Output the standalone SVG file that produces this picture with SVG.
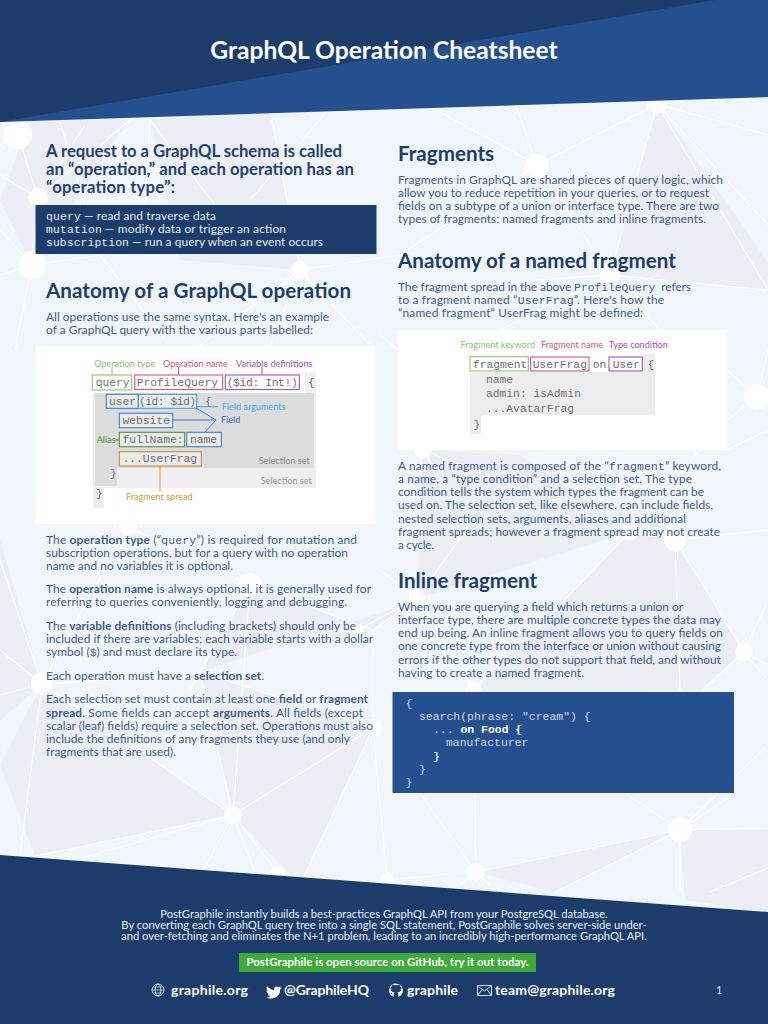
<svg xmlns="http://www.w3.org/2000/svg" width="768" height="1024" viewBox="0 0 768 1024">
<style>
text{font-family:"Lato","Noto Sans",sans-serif;white-space:pre}
.b{font-size:11.9px;fill:#3d5c88}
.s{font-weight:700}
.h{font-size:20.6px;font-weight:700;fill:#1c3d6b}
.i{font-size:16.7px;font-weight:700;fill:#1f4170}
.m{font-family:"Liberation Mono",monospace;font-size:11.4px}
.c{font-family:"Liberation Mono",monospace;font-size:11.3px;fill:#707070}
.l{font-size:9.1px}
.box{fill:none;stroke-width:1.1}
.w{font-size:11.9px;fill:#e6ecf5}
.k{font-family:"Liberation Mono",monospace;font-size:11.45px;fill:#ccd7e8}
.f{font-size:11.2px;fill:#e8edf5;text-anchor:middle}
.a{font-size:14px;font-weight:700;fill:#fff}
.e{stroke:#fff;stroke-width:1.1;fill:none}
.g{fill:#ebeef4}
</style>
<rect width="768" height="1024" fill="#f1f6fd"/>
<g id="background">
<polygon class="g" points="657,104 610,275 768,290 768,262"/>
<polygon class="g" points="42,684 233,815 35,856 0,765"/>
<polygon class="g" points="200,672 373,728 233,815"/>
<polygon class="g" points="250,585 373,630 420,600 200,672"/>
<polygon class="g" points="630,532 675,540 744,652 700,690 470,692"/>
<polygon class="g" points="680,830 768,830 768,912 685,900"/>
<polygon class="g" points="476,872 680,830 555,892"/>
<polygon class="g" points="233,815 373,728 300,885"/>
<polygon class="g" points="30,122 130,118 32,265 0,200"/>
<polygon class="g" points="150,120 270,110 300,270 180,260"/>
<polygon class="g" points="423,450 520,455 630,532 417,598"/>
<polygon class="g" points="0,540 42,684 0,720"/>
<g class="e">
<path d="M18 135 L38 198 L32 265 M18 135 L0 145 M38 198 L0 175 M32 265 L0 230 M32 265 L0 275 M32 265 L15 350 M38 198 L85 125 M38 198 L130 120"/>
<path d="M32 265 L100 255 L165 340 M100 255 L60 122 M150 118 L145 210 M270 110 L300 270 L270 345 M300 270 L400 255 M300 270 L370 345 M300 270 L200 345 M150 120 L215 205 M330 108 L250 200"/>
<path d="M537 165 L657 104 L610 275 M537 165 L515 103 M537 165 L440 112 M537 165 L610 275 M537 165 L400 255 M657 104 L768 225 M657 104 L768 135 M657 104 L768 290 M610 275 L768 290 M610 275 L660 330 M610 275 L500 330 M610 275 L400 290"/>
<path d="M757 397 L768 400 M757 397 L727 420 M757 397 L727 370 M757 397 L768 350 M398 350 L380 335"/>
<path d="M128 527 L250 585 L233 815 M128 527 L42 684 M250 585 L373 630 L373 728 M250 585 L190 690 M42 684 L0 695 M42 684 L0 650 M0 560 L42 684 M42 684 L235 672 M42 684 L233 815 M42 684 L20 855 M233 815 L35 856 M233 815 L75 860 M233 815 L373 728 L300 885 M233 815 L205 868 M233 815 L255 872 M233 815 L278 873 M200 672 L233 815 M200 672 L373 728 M373 630 L417 598 M373 728 L387 880"/>
<path d="M423 450 L470 525 L417 598 L358 630 M423 450 L630 532 M630 532 L675 540 L680 690 M630 532 L540 625 L470 692 M675 540 L744 652 L768 600 M744 652 L768 665 M744 652 L700 692 M744 652 L768 680 M675 540 L768 530 M417 598 L480 692 M417 598 L380 570 M630 532 L700 450 M768 430 L727 450 M475 692 L417 598"/>
<path d="M680 830 L768 828 M680 830 L476 872 M680 830 L625 793 M680 830 L735 793 M680 830 L680 890 M680 830 L768 745 M680 830 L555 892 M476 872 L475 793 M476 872 L420 793 M476 872 L385 880 M476 872 L460 885 M476 872 L490 885 M768 868 L710 892"/>
</g>
<g fill="#fff">
<circle cx="18" cy="135" r="14"/><circle cx="38" cy="198" r="10"/><circle cx="32" cy="265" r="14"/><circle cx="300" cy="270" r="9"/><circle cx="537" cy="166" r="12"/><circle cx="657" cy="104" r="10"/><circle cx="610" cy="275" r="10"/><circle cx="757" cy="397" r="13"/><circle cx="423" cy="450" r="9"/><circle cx="128" cy="526" r="9"/><circle cx="250" cy="585" r="12"/><circle cx="42" cy="684" r="11"/><circle cx="373" cy="728" r="9"/><circle cx="233" cy="815" r="9"/><circle cx="278" cy="873" r="7"/><circle cx="387" cy="880" r="7"/><circle cx="675" cy="540" r="11"/><circle cx="630" cy="532" r="8"/><circle cx="417" cy="598" r="8"/><circle cx="744" cy="652" r="9"/><circle cx="474" cy="690" r="8"/><circle cx="680" cy="830" r="12"/><circle cx="476" cy="872" r="9"/><circle cx="358" cy="630" r="6"/>
</g>
</g>
<g id="header">
<polygon points="0,0 768,0 768,97 0,122" fill="#25508f"/>
<polygon points="0,0 715,0 0,122" fill="#1c3d6b"/>
<text x="384" y="59" text-anchor="middle" font-size="24.6" font-weight="700" fill="#fff">GraphQL Operation Cheatsheet</text>
</g>
<g id="left-column">
<text class="i" x="46" y="157" textLength="296">A request to a GraphQL schema is called</text>
<text class="i" x="46" y="175" textLength="308">an “operation,” and each operation has an</text>
<text class="i" x="46" y="193" textLength="129">“operation type”:</text>
<rect x="35.5" y="205" width="341" height="49" fill="#1c3d6b"/>
<text class="w" x="46" y="220" textLength="170"><tspan class="m">query</tspan> — read and traverse data</text>
<text class="w" x="46" y="233" textLength="240"><tspan class="m">mutation</tspan> — modify data or trigger an action</text>
<text class="w" x="46" y="246" textLength="277"><tspan class="m">subscription</tspan> — run a query when an event occurs</text>
<text class="h" x="46" y="298" textLength="305">Anatomy of a GraphQL operation</text>
<text class="b" x="46" y="321" textLength="283">All operations use the same syntax. Here's an example</text>
<text class="b" x="46" y="334" textLength="267">of a GraphQL query with the various parts labelled:</text>
<text class="b" x="46" y="543.500" textLength="311">The <tspan class="s">operation type</tspan> (“<tspan class="m">query</tspan>”) is required for mutation and</text>
<text class="b" x="46" y="557" textLength="302">subscription operations, but for a query with no operation</text>
<text class="b" x="46" y="570" textLength="187">name and no variables it is optional.</text>
<text class="b" x="46" y="593" textLength="325">The <tspan class="s">operation name</tspan> is always optional, it is generally used for</text>
<text class="b" x="46" y="606" textLength="301">referring to queries conveniently, logging and debugging.</text>
<text class="b" x="46" y="630" textLength="310">The <tspan class="s">variable definitions</tspan> (including brackets) should only be</text>
<text class="b" x="46" y="643" textLength="327">included if there are variables; each variable starts with a dollar</text>
<text class="b" x="46" y="656" textLength="191">symbol (<tspan class="m">$</tspan>) and must declare its type.</text>
<text class="b" x="46" y="680" textLength="218">Each operation must have a <tspan class="s">selection set</tspan>.</text>
<text class="b" x="46" y="703" textLength="322">Each selection set must contain at least one <tspan class="s">field</tspan> or <tspan class="s">fragment</tspan></text>
<text class="b" x="46" y="716.500" textLength="317"><tspan class="s">spread</tspan>. Some fields can accept <tspan class="s">arguments</tspan>. All fields (except</text>
<text class="b" x="46" y="729.500" textLength="327">scalar (leaf) fields) require a selection set. Operations must also</text>
<text class="b" x="46" y="742.500" textLength="304">include the definitions of any fragments they use (and only</text>
<text class="b" x="46" y="755.500" textLength="130">fragments that are used).</text>
</g>
<g id="operation-diagram">
<rect x="35" y="346" width="340" height="178" fill="#fff"/>
<rect x="305" y="372" width="11" height="21" fill="#f0f0f0"/>
<rect x="93" y="393" width="223" height="95" fill="#efefef"/>
<rect x="93" y="488" width="11" height="20" fill="#efefef"/>
<rect x="95" y="393" width="219" height="75" fill="#dcdcdc"/>
<rect x="95" y="468" width="22" height="18" fill="#dcdcdc"/>
<rect x="106" y="394" width="90" height="14" fill="#ececec"/>
<rect x="119" y="413" width="54" height="15" fill="#ececec"/>
<rect x="119" y="432" width="102" height="15" fill="#ececec"/>
<rect x="119" y="452" width="82" height="14" fill="#ececec"/>
<g id="connectors" fill="none" stroke-width="1">
<path d="M112 367V375" stroke="#8cc66e"/>
<path d="M178.5 367V375" stroke="#d9567e"/>
<path d="M262 367V375" stroke="#a04fc0"/>
<path d="M196.7 406.7H218" stroke="#2fb4e8"/>
<path d="M172.7 420H216M196 408L216 420M205 432L216 420" stroke="#3a7fd0"/>
<path d="M115 440H119.3" stroke="#5a8a3a"/>
<path d="M160 466V492" stroke="#cf9a45"/>
<path d="M499 349V357" stroke="#8cc66e"/>
<path d="M559.7 349V357" stroke="#d9567e"/>
<path d="M625 349V357" stroke="#a04fc0"/>
</g>
<g id="query-box"><rect class="box" x="92.3" y="375" width="39.4" height="15" stroke="#8cc66e"/><text class="c" x="95.7" y="386">query</text></g>
<g id="name-box"><rect class="box" x="134.7" y="375" width="88" height="14.5" stroke="#d9567e"/><text class="c" x="136.7" y="386">ProfileQuery</text></g>
<g id="vars-box"><rect class="box" x="225.3" y="375" width="74" height="14.5" stroke="#a04fc0"/><text class="c" x="226.7" y="386" textLength="71">($id: Int!)</text></g>
<text class="c" x="308" y="386">{</text>
<g id="user-box"><rect class="box" x="106.3" y="394.3" width="32" height="14" stroke="#3a7fd0"/><text class="c" x="109" y="404.5">user</text></g>
<g id="args-box"><rect class="box" x="138.3" y="394.3" width="58.4" height="14" stroke="#2fa5e0"/><text class="c" x="139" y="404.500" textLength="57">(id: $id)</text></g>
<text class="c" x="205" y="404.5">{</text>
<g id="website-box"><rect class="box" x="119.3" y="413.3" width="53.4" height="14.4" stroke="#3a7fd0"/><text class="c" x="122.5" y="423.5">website</text></g>
<g id="alias-box"><rect class="box" x="119.3" y="432.3" width="65.4" height="14.4" stroke="#5a8a3a"/><text class="c" x="122.5" y="442.5">fullName:</text></g>
<g id="field-box"><rect class="box" x="186.7" y="432.3" width="34.6" height="14.4" stroke="#3a7fd0"/><text class="c" x="190" y="442.5">name</text></g>
<g id="spread-box"><rect class="box" x="119.3" y="451.7" width="82" height="14.3" stroke="#c8903c"/><text class="c" x="122.5" y="461.5">...UserFrag</text></g>
<text class="c" x="110" y="477">}</text>
<text class="c" x="96" y="497">}</text>
<text class="l" x="94.3" y="366.5" fill="#8cc66e">Operation type</text>
<text class="l" x="163" y="366.5" fill="#d9567e">Operation name</text>
<text class="l" x="236" y="366.5" fill="#a04fc0">Variable definitions</text>
<text class="l" x="221.7" y="409.5" fill="#2fb4e8">Field arguments</text>
<text class="l" x="221" y="423" fill="#2f6fc8">Field</text>
<text class="l" x="96.7" y="443" fill="#5a8a3a">Alias</text>
<text class="l" x="258.7" y="463.5" fill="#888">Selection set</text>
<text class="l" x="260.7" y="484" fill="#999">Selection set</text>
<text class="l" x="126" y="499.5" fill="#cf9a45">Fragment spread</text>
</g>
<g id="right-column">
<text class="h" x="398" y="160.500">Fragments</text>
<text class="b" x="398" y="184" textLength="325">Fragments in GraphQL are shared pieces of query logic, which</text>
<text class="b" x="398" y="197" textLength="311">allow you to reduce repetition in your queries, or to request</text>
<text class="b" x="398" y="210" textLength="321">fields on a subtype of a union or interface type. There are two</text>
<text class="b" x="398" y="223" textLength="308">types of fragments: named fragments and inline fragments.</text>
<text class="h" x="398" y="268" textLength="278">Anatomy of a named fragment</text>
<text class="b" x="398" y="291" textLength="293">The fragment spread in the above <tspan class="m">ProfileQuery</tspan>  refers</text>
<text class="b" x="398" y="304" textLength="266">to a fragment named “<tspan class="m">UserFrag</tspan>”. Here's how the</text>
<text class="b" x="398" y="317" textLength="245">“named fragment” UserFrag might be defined:</text>
<text class="b" x="398" y="470" textLength="323">A named fragment is composed of the “<tspan class="m">fragment</tspan>” keyword,</text>
<text class="b" x="398" y="483" textLength="294">a name, a “type condition” and a selection set. The type</text>
<text class="b" x="398" y="496" textLength="306">condition tells the system which types the fragment can be</text>
<text class="b" x="398" y="509" textLength="315">used on. The selection set, like elsewhere, can include fields,</text>
<text class="b" x="398" y="522.500" textLength="288">nested selection sets, arguments, aliases and additional</text>
<text class="b" x="398" y="535.500" textLength="322">fragment spreads; however a fragment spread may not create</text>
<text class="b" x="398" y="548.500" textLength="36">a cycle.</text>
<text class="h" x="398" y="588">Inline fragment</text>
<text class="b" x="398" y="611" textLength="285">When you are querying a field which returns a union or</text>
<text class="b" x="398" y="624" textLength="323">interface type, there are multiple concrete types the data may</text>
<text class="b" x="398" y="637" textLength="325">end up being. An inline fragment allows you to query fields on</text>
<text class="b" x="398" y="650" textLength="323">one concrete type from the interface or union without causing</text>
<text class="b" x="398" y="663.500" textLength="323">errors if the other types do not support that field, and without</text>
<text class="b" x="398" y="676.500" textLength="186">having to create a named fragment.</text>
</g>
<g id="fragment-diagram">
<rect x="398" y="330" width="329" height="120" fill="#fff"/>
<rect x="643" y="354" width="12" height="18" fill="#ededed"/>
<rect x="470" y="372" width="185" height="43" fill="#ededed"/>
<rect x="470" y="415" width="11" height="19" fill="#ededed"/>
<g id="keyword-box"><rect class="box" x="470" y="356.700" width="58.300" height="14.300" stroke="#8cc66e"/><text class="c" x="473" y="367.700">fragment</text></g>
<g id="fragname-box"><rect class="box" x="530.700" y="357" width="58.300" height="14" stroke="#d9567e"/><text class="c" x="532.700" y="367.700">UserFrag</text></g>
<text class="c" x="592.700" y="367.700">on</text>
<g id="type-box"><rect class="box" x="609" y="357" width="33.300" height="14" stroke="#a04fc0"/><text class="c" x="612.700" y="367.700">User</text></g>
<text class="c" x="647.500" y="367.700">{</text>
<text class="c" x="486" y="382.500">name</text>
<text class="c" x="486" y="396.700">admin: isAdmin</text>
<text class="c" x="486" y="411.500">...AvatarFrag</text>
<text class="c" x="473.500" y="428">}</text>
<text class="l" x="460.700" y="348" fill="#8cc66e">Fragment keyword</text>
<text class="l" x="541" y="348" fill="#d9567e">Fragment name</text>
<text class="l" x="608.700" y="348" fill="#a04fc0">Type condition</text>
</g>
<g id="inline-code">
<rect x="392.500" y="692" width="341.500" height="101" fill="#25508f"/>
<text class="k" x="405.500" y="707">{</text>
<text class="k" x="419" y="720">search(phrase: "cream") {</text>
<text class="k" x="433" y="733"><tspan fill="#e8eef6">...</tspan><tspan fill="#fff" font-weight="700"> on Food {</tspan></text>
<text class="k" x="446" y="746">manufacturer</text>
<text class="k" x="433" y="760" fill="#fff" font-weight="700">}</text>
<text class="k" x="419" y="773">}</text>
<text class="k" x="405.500" y="786">}</text>
</g>
<g id="footer">
<polygon points="0,855 768,912 768,1024 0,1024" fill="#1c3d6b"/>
<text class="f" x="384" y="917.500">PostGraphile instantly builds a best-practices GraphQL API from your PostgreSQL database.</text>
<text class="f" x="384" y="929">By converting each GraphQL query tree into a single SQL statement, PostGraphile solves server-side under-</text>
<text class="f" x="384" y="940">and over-fetching and eliminates the N+1 problem, leading to an incredibly high-performance GraphQL API.</text>
<rect x="239" y="953" width="297" height="19" fill="#3eaa3a"/>
<text x="387.500" y="966" text-anchor="middle" font-size="11.500" font-weight="700" fill="#fff">PostGraphile is open source on GitHub, try it out today.</text>
<g id="link-web"><circle cx="158" cy="990" r="6" fill="none" stroke="#dfe6f0" stroke-width=".9"/><ellipse cx="158" cy="990" rx="2.800" ry="6" fill="none" stroke="#dfe6f0" stroke-width=".8"/><path d="M152 990H164M153 987H163M153 993H163" stroke="#dfe6f0" stroke-width=".7"/><text class="a" x="171" y="995" textLength="77">graphile.org</text></g>
<g id="link-twitter"><path d="M267 986c2 2.500 4.500 3.800 7 4-.4-2.800 2.800-4.600 5-2.700l2-.8-1 1.800 1.800-.4-1.600 1.600c.1 5-4 9.500-9.500 9-1.500 0-3-.5-4.200-1.300 1.500.1 3-.3 4-1.200-1.500-.1-2.500-1-3-2.200h1.500c-1.600-.5-2.500-1.800-2.600-3.200l1.500.4c-1.500-1.200-1.800-3.300-.9-5z" fill="#fff"/><text class="a" x="284" y="995" textLength="85">@GraphileHQ</text></g>
<g id="link-github"><path d="M396 983.500a6.800 6.800 0 0 0-2.300 13.200v-2.500c-2.700.5-3-1.300-3-1.300 1.500.2 2 1.300 3 1.300.1-1 .5-1.400.8-1.700-2.200-.3-3.800-1.300-3.800-3.700 0-1 .4-1.800 1-2.400 0-.6-.2-1.300.1-2.200 1 0 1.700.5 2.400 1a7 7 0 0 1 3.600 0c.7-.5 1.400-1 2.400-1 .3.900.1 1.600.1 2.200.6.600 1 1.400 1 2.400 0 2.400-1.600 3.400-3.800 3.700.4.400.8 1 .8 1.900v2.500a6.800 6.800 0 0 0-2.300-13.200z" fill="#fff"/><text class="a" x="407" y="995" textLength="51">graphile</text></g>
<g id="link-mail"><path d="M477.500 985.500H491.500V995.500H477.500ZM477.500 985.500L484.500 991L491.500 985.500M477.500 995.500L482 989.500M491.500 995.500L487 989.500" fill="none" stroke="#dfe6f0" stroke-width=".9"/><text class="a" x="495" y="995" textLength="120">team@graphile.org</text></g>
<text x="716" y="994" font-size="11" fill="#dfe6f0">1</text>
</g>
</svg>
